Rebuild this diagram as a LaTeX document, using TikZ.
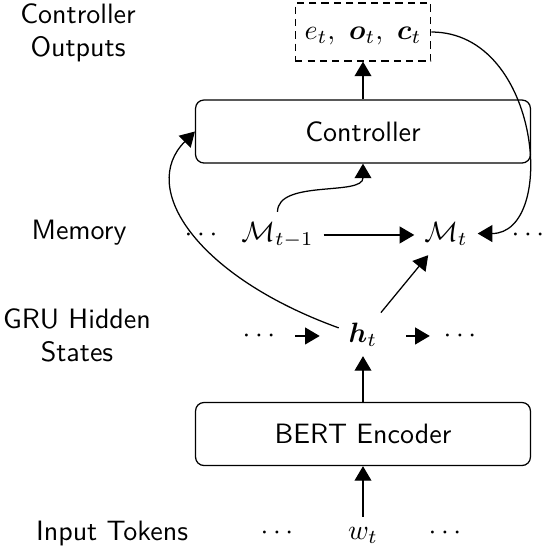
\documentclass[tikz,border=0pt]{standalone}
\usepackage{bm}
\usetikzlibrary{arrows.meta}
\begin{document}
\begin{tikzpicture}[x=0.35714pt,y=-0.35714pt, line width=0.45pt,
  >={Triangle[length=5.2pt,width=6pt]},
  lbl/.style={font=\sffamily, inner sep=0pt, align=center},
  blk/.style={draw, rounded corners=3pt, minimum width=119.6pt, minimum height=22.5pt, font=\sffamily},
  outbox/.style={draw, dash pattern=on 2.6pt off 1.8pt, minimum width=47.5pt, minimum height=20.7pt, text height=6.5pt, text depth=1.5pt},
  mth/.style={anchor=base}]
\useasboundingbox (0,0) rectangle (547,548);
% left labels
\node[lbl, anchor=north] (lco) at (78,2.6) {Controller\\Outputs};
\node[lbl, anchor=base] (lmem) at (79,239) {Memory};
\node[lbl, anchor=north] (lgru) at (77,307.6) {GRU Hidden\\States};
\node[lbl, anchor=base] (lin) at (112,540) {Input Tokens};
% blocks
\node[outbox] (out) at (363,32) {$e_t,\ \bm{o}_t,\ \bm{c}_t$};
\node[blk] (ctrl) at (363,131.5) {Controller};
\node[blk] (bert) at (363,434) {BERT Encoder};
% memory row
\node[mth] (m1) at (277.5,241) {$\mathcal{M}_{t-1}$};
\node[mth] (mt) at (446,241) {$\mathcal{M}_t$};
\node[mth] (mdl) at (201,241) {$\cdots$};
\node[mth] (mdr) at (528,241) {$\cdots$};
% GRU row
\node[mth] (h) at (363,342) {$\bm{h}_t$};
\node[mth] (hdl) at (259,342) {$\cdots$};
\node[mth] (hdr) at (460,342) {$\cdots$};
% input row
\node[mth] (w) at (363,539) {$w_t$};
\node[mth] (wdl) at (277,539) {$\cdots$};
\node[mth] (wdr) at (445,539) {$\cdots$};
% connectors
\draw[->] (ctrl) -- (out);
\draw[->] (m1.north) to[out=90,in=-90,looseness=0.85] (ctrl.south);
\draw[->] (m1.mid east) -- (mt.mid west);
\draw[->] (out.east) .. controls +(110,0) and +(80,0) .. (mt.east);
\draw[->] (h) -- (mt);
\draw[->] (h.165) .. controls +(-141,-51) and +(-57,57) .. (ctrl.west);
\draw[->,shorten <=3.6pt,shorten >=6.8pt] (hdl.mid east) -- (h.mid west);
\draw[->,shorten <=6.8pt,shorten >=1.4pt] (h.mid east) -- (hdr.mid west);
\draw[->] (bert) -- (h);
\draw[->] (w) -- (bert);
\end{tikzpicture}
\end{document}
